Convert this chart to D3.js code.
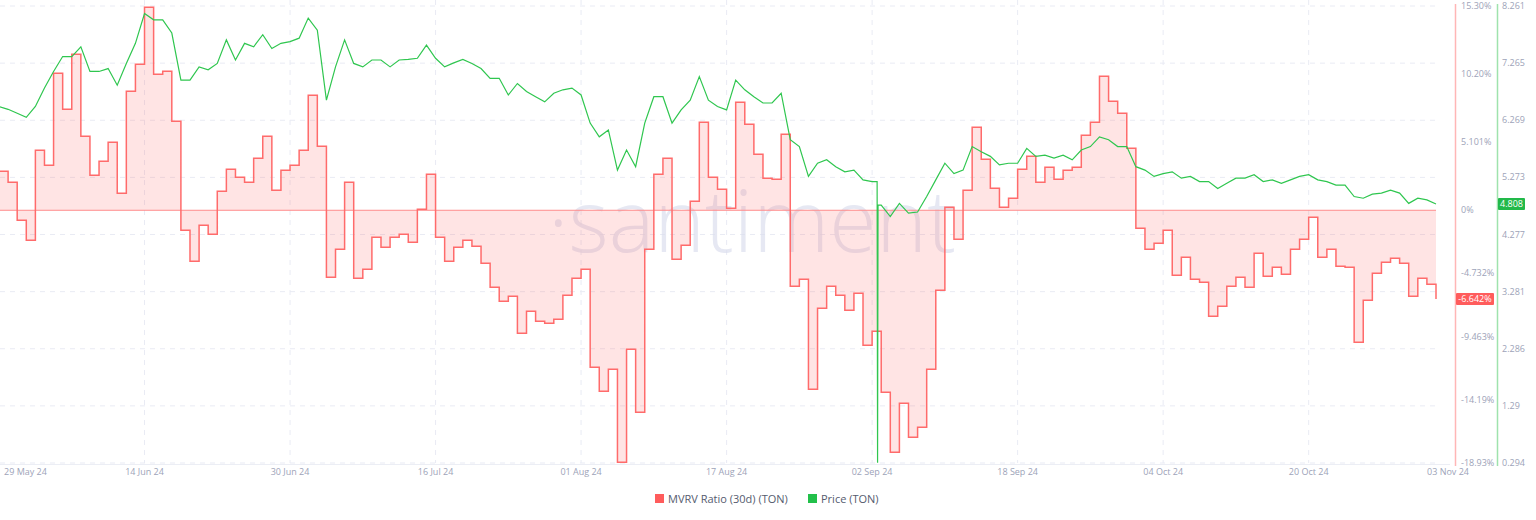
<!DOCTYPE html>
<html>
<head>
<meta charset="utf-8">
<script src="https://cdn.jsdelivr.net/npm/d3@7"></script>
<style>
  body { margin: 0; background: #fff; font-family: "Open Sans", "DejaVu Sans", sans-serif; }
</style>
</head>
<body>
<svg id="chart" width="1536" height="520"></svg>
<script>
// Daily values from 29 May 24 (day 0) to 03 Nov 24 (day 158)
var startDate = new Date(2024, 4, 29);

var mvrv = [
  2.92,2.10,-0.75,-2.25,4.49,3.37,10.26,7.56,11.68,5.54,2.62,3.67,5.09,1.27,8.91,10.94,15.2,10.19,10.41,6.67,
  -1.50,-3.82,-1.12,-1.80,1.42,3.07,2.47,2.10,3.89,5.54,1.50,3.00,3.37,4.49,8.61,4.79,-5.02,-2.92,2.10,-5.09,
  -4.42,-2.02,-2.77,-2.02,-1.80,-2.40,0.07,2.70,-2.02,-3.82,-2.77,-2.25,-2.70,-3.97,-5.77,
  -6.82,-6.44,-9.21,-7.56,-8.31,-8.46,-8.16,-6.37,-5.09,-4.42,-11.76,-13.56,-11.91,-18.87,-10.41,-15.13,-2.92,2.70,3.89,-3.67,
  -2.62,0.67,6.59,2.47,1.57,0.15,8.09,6.44,4.19,2.40,2.32,5.69,-5.69,-5.17,-13.41,-7.34,-5.69,-6.37,-7.49,-6.22,
  -10.11,-9.06,-13.63,-18.13,-14.46,-17.00,-16.25,-11.91,-5.99,0.22,-2.17,1.50,6.22,3.82,
  1.65,0.22,0.90,3.07,4.04,2.10,3.22,2.32,3.00,3.22,5.62,6.59,10.04,8.16,7.27,4.64,-1.35,-2.92,-2.47,-1.50,
  -4.87,-3.52,-5.17,-5.39,-7.94,-7.19,-5.69,-5.02,-5.77,-3.22,-4.94,-4.27,-4.79,-2.92,-2.17,-0.52,-3.52,-2.92,-4.19,-4.27,
  -9.89,-6.74,-4.72,-3.89,-3.60,-3.97,-6.44,-5.09,-5.54,-6.642
];

var price = [
  6.51,6.46,6.39,6.32,6.51,6.83,7.12,7.38,7.38,7.55,7.12,7.12,7.17,6.88,7.26,7.61,8.13,8.02,8.02,7.79,
  6.97,6.97,7.20,7.15,7.26,7.67,7.32,7.61,7.55,7.76,7.52,7.61,7.64,7.70,8.05,7.84,6.62,7.20,7.67,7.26,
  7.20,7.32,7.32,7.20,7.32,7.33,7.35,7.58,7.35,7.20,7.27,7.33,7.26,7.17,7.00,7.00,6.71,6.91,6.77,6.68,
  6.59,6.74,6.80,6.83,6.71,6.22,5.98,6.10,5.40,5.75,5.46,6.22,6.68,6.68,6.22,6.45,6.62,7.03,6.62,6.51,
  6.45,6.97,6.80,6.68,6.57,6.57,6.74,5.93,5.81,5.29,5.52,5.58,5.46,5.37,5.40,5.23,5.20,4.79,4.59,4.82,
  4.65,4.67,4.94,5.23,5.52,5.34,5.40,5.81,5.72,5.64,5.49,5.52,5.52,5.78,5.64,5.66,5.61,5.66,5.58,5.75,
  5.81,5.98,5.93,5.81,5.81,5.46,5.40,5.29,5.34,5.37,5.26,5.29,5.20,5.20,5.08,5.17,5.26,5.26,5.32,5.20,
  5.23,5.17,5.23,5.29,5.32,5.23,5.20,5.14,5.14,4.94,4.91,4.98,5.00,5.05,5.00,4.82,4.91,4.88,4.808
];

// one bad tick on 02 Sep
var priceSpikeDay = 96.6;
var priceSpikeValue = 0.30;

var mvrvTicks = [15.30, 10.20, 5.101, 0, -4.732, -9.463, -14.19, -18.93];
var mvrvTickLabels = ["15.30%", "10.20%", "5.101%", "0%", "-4.732%", "-9.463%", "-14.19%", "-18.93%"];
var priceTicks = [8.261, 7.265, 6.269, 5.273, 4.277, 3.281, 2.286, 1.29, 0.294];
var dateTickDays = [0, 16, 32, 48, 64, 80, 96, 112, 128, 144, 158];
var dateTickLabels = ["29 May 24", "14 Jun 24", "30 Jun 24", "16 Jul 24", "01 Aug 24", "17 Aug 24",
                      "02 Sep 24", "18 Sep 24", "04 Oct 24", "20 Oct 24", "03 Nov 24"];

var svg = d3.select("#chart");
var plotTop = 6, plotBottom = 463, plotRight = 1436;

var x = d3.scaleLinear().domain([0, 158]).range([-1, plotRight]);
var yM = d3.scaleLinear().domain([-18.93, 15.30]).range([plotBottom, plotTop]);
var yP = d3.scaleLinear().domain([0.294, 8.261]).range([plotBottom, plotTop]);

// grid
svg.append("g").selectAll("line").data(priceTicks).join("line")
  .attr("x1", 0).attr("x2", plotRight)
  .attr("y1", d => yP(d)).attr("y2", d => yP(d))
  .attr("stroke", "#e9ebf4").attr("stroke-dasharray", "5,5");
svg.append("g").selectAll("line").data(dateTickDays.slice(1, 10)).join("line")
  .attr("x1", d => x(d)).attr("x2", d => x(d))
  .attr("y1", 0).attr("y2", plotBottom)
  .attr("stroke", "#e9ebf4").attr("stroke-dasharray", "5,5");

// watermark
svg.append("text").attr("x", 752).attr("y", 252).attr("text-anchor", "middle")
  .attr("font-size", 86).attr("font-weight", 300).attr("fill", "#dcdfee").attr("opacity", 0.7)
  .text("·santiment");

// MVRV area + step line
var mvrvPts = mvrv.map((v, i) => [i, v]);
mvrvPts.push([158.5, mvrv[mvrv.length - 1]]);
var xs = d => Math.min(x(d[0]), plotRight);

svg.append("path").datum(mvrvPts)
  .attr("d", d3.area().curve(d3.curveStepAfter).x(xs).y0(yM(0)).y1(d => yM(d[1])))
  .attr("fill", "#ff5e5e").attr("fill-opacity", 0.17);
svg.append("line").attr("x1", 0).attr("x2", plotRight).attr("y1", yM(0)).attr("y2", yM(0))
  .attr("stroke", "#ff8c8c").attr("stroke-width", 1);
svg.append("path").datum(mvrvPts)
  .attr("d", d3.line().curve(d3.curveStepAfter).x(xs).y(d => yM(d[1])))
  .attr("fill", "none").attr("stroke", "#ff6b6b").attr("stroke-width", 1.5);

// price line
var pricePts = price.map((v, i) => [i, v]);
pricePts.splice(97, 0, [priceSpikeDay - 0.05, price[96]], [priceSpikeDay, priceSpikeValue], [priceSpikeDay + 0.05, price[97]]);
svg.append("path").datum(pricePts)
  .attr("d", d3.line().x(d => x(d[0])).y(d => yP(d[1])))
  .attr("fill", "none").attr("stroke", "#2fc64f").attr("stroke-width", 1.2);

// bottom axis
svg.append("line").attr("x1", 0).attr("x2", 1450).attr("y1", 464.5).attr("y2", 464.5)
  .attr("stroke", "#eceef5");
svg.append("g").selectAll("text").data(dateTickDays).join("text")
  .attr("x", (d, i) => i === 0 ? 4 : (i === dateTickDays.length - 1 ? 1469 : x(d)))
  .attr("y", 475)
  .attr("text-anchor", (d, i) => i === 0 ? "start" : (i === dateTickDays.length - 1 ? "end" : "middle"))
  .attr("font-size", 9).attr("fill", "#9da3b8")
  .text((d, i) => dateTickLabels[i]);

// right axes
svg.append("line").attr("x1", 1455.5).attr("x2", 1455.5).attr("y1", 4).attr("y2", 466)
  .attr("stroke", "#ffb6b6").attr("stroke-width", 1.5);
svg.append("line").attr("x1", 1497.5).attr("x2", 1497.5).attr("y1", 4).attr("y2", 466)
  .attr("stroke", "#9fe3ad").attr("stroke-width", 1.5);

svg.append("g").selectAll("text").data(mvrvTicks).join("text")
  .attr("x", 1461).attr("y", d => yM(d) + 3)
  .attr("font-size", 9).attr("fill", "#9da3b8")
  .text((d, i) => mvrvTickLabels[i]);
svg.append("g").selectAll("text").data(priceTicks).join("text")
  .attr("x", 1502).attr("y", d => yP(d) + 3)
  .attr("font-size", 9).attr("fill", "#9da3b8")
  .text(d => d);

// last value badges
var lastM = mvrv[mvrv.length - 1], lastP = price[price.length - 1];
svg.append("rect").attr("x", 1456).attr("y", yM(lastM) - 6).attr("width", 38).attr("height", 12)
  .attr("fill", "#ff5c5c").attr("rx", 1);
svg.append("text").attr("x", 1475).attr("y", yM(lastM) + 3).attr("text-anchor", "middle")
  .attr("font-size", 9).attr("fill", "#fff").text(lastM + "%");
svg.append("rect").attr("x", 1498).attr("y", yP(lastP) - 6).attr("width", 27).attr("height", 12)
  .attr("fill", "#22b94a").attr("rx", 1);
svg.append("text").attr("x", 1511.5).attr("y", yP(lastP) + 3).attr("text-anchor", "middle")
  .attr("font-size", 9).attr("fill", "#fff").text(lastP);

// legend
var legend = [["MVRV Ratio (30d) (TON)", "#ff5c5c", 655], ["Price (TON)", "#22c04a", 808]];
var lg = svg.append("g").selectAll("g").data(legend).join("g")
  .attr("transform", d => "translate(" + d[2] + ",494)");
lg.append("rect").attr("width", 9).attr("height", 9).attr("fill", d => d[1]);
lg.append("text").attr("x", 13).attr("y", 8.5).attr("font-size", 11).attr("fill", "#555b6e")
  .text(d => d[0]);
</script>
</body>
</html>
